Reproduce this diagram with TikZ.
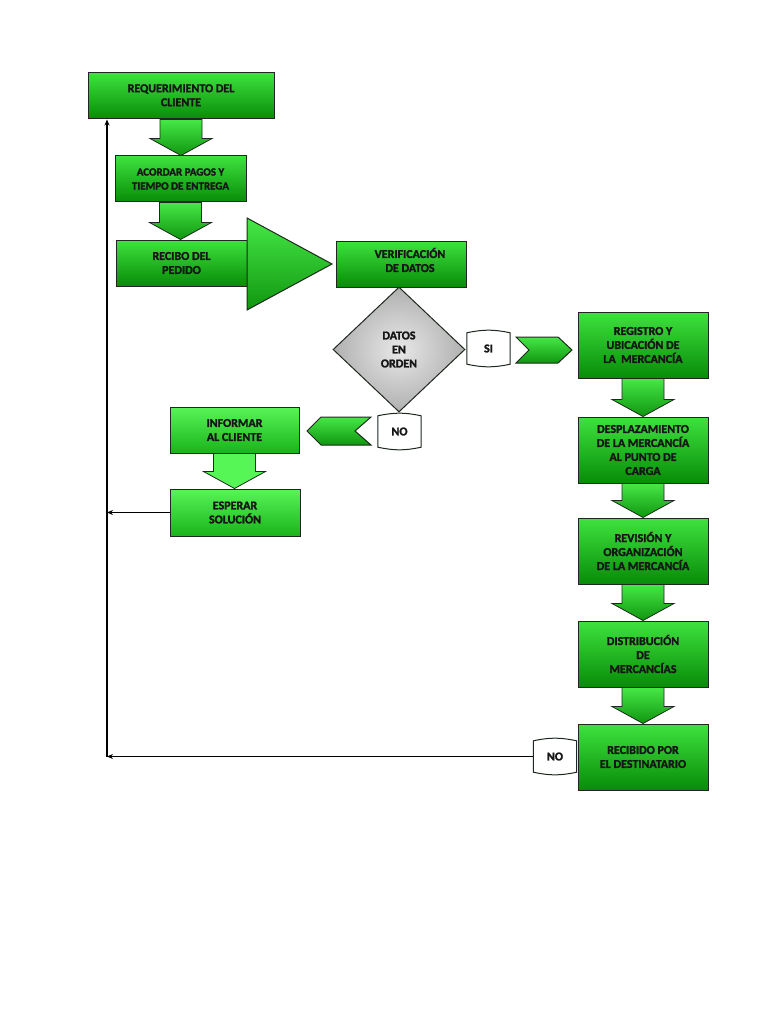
\documentclass[tikz,border=0pt]{standalone}
\usepackage{fontspec}
\setmainfont{Carlito}[BoldFeatures={FakeBold=1.8}]
\usetikzlibrary{arrows.meta,calc,backgrounds,shapes.geometric}
\definecolor{gtop}{RGB}{62,226,62}
\definecolor{gbot}{RGB}{8,140,8}
\definecolor{ltop}{RGB}{88,244,88}
\definecolor{lbot}{RGB}{26,180,26}
\definecolor{atop}{RGB}{70,232,70}
\definecolor{abot}{RGB}{16,150,16}
\definecolor{txtc}{RGB}{22,22,22}
\definecolor{edge}{RGB}{30,40,30}
\definecolor{bright}{RGB}{86,246,86}
\newcommand{\blockdown}[3][]{%
  \path[blockarrow,#1] let \p1=(#2.south), \p2=(#3.north) in
    (\x1-21pt,\y1) -- (\x1+21pt,\y1) -- (\x1+21pt,\y2+17pt) -- (\x1+31pt,\y2+17pt)
    -- (\x1,\y2) -- (\x1-31pt,\y2+17pt) -- (\x1-21pt,\y2+17pt) -- cycle;}
\begin{document}
\begin{tikzpicture}[x=1pt,y=-1pt,
  txt/.style={font=\bfseries\fontsize{12}{14}\selectfont, text=txtc, align=center},
  box/.style={txt, draw=edge, line width=1pt, top color=gtop, bottom color=gbot,
    rectangle, inner sep=0pt},
  lbox/.style={box, top color=ltop, bottom color=lbot},
  blockarrow/.style={draw=edge, line width=0.8pt, top color=atop, bottom color=abot},
  tagnode/.style={txt, rectangle, inner sep=0pt, minimum width=43, minimum height=31},
  tagline/.style={draw=edge, line width=1pt, fill=white},
  conn/.style={draw=black, line width=1.2pt, -{Stealth[length=6pt,width=5pt]}}
]
\useasboundingbox (0,0) rectangle (768,1024);

% left column
\node[box, minimum width=186, minimum height=46] (req) at (181,96) {REQUERIMIENTO DEL\\CLIENTE\vphantom{Q}};
\node[box, minimum width=131, minimum height=46, font=\bfseries\fontsize{11}{14}\selectfont] (acor) at (180.5,179) {ACORDAR PAGOS Y\\TIEMPO DE ENTREGA};
\node[box, minimum width=131, minimum height=46] (rec) at (181.5,263) {RECIBO DEL\\PEDIDO};
\blockdown{req}{acor}
\blockdown{acor}{rec}

% big triangle
\coordinate (t1) at (247,218);
\coordinate (t2) at (332,264);
\coordinate (t3) at (247,310);
\path[blockarrow, line width=1pt] (t1) -- (t2) -- (t3) -- cycle;

% verification
\node[box, minimum width=130, minimum height=46] (ver) at (401,264) {};
\node[txt] (vert) at (410,260) {VERIFICACIÓN\\DE DATOS};

% diamond
\node[txt, diamond, draw=edge, line width=1pt, inner color=gray!18, outer color=gray!62,
  minimum width=132, minimum height=125, inner sep=0pt] (dat) at (399,349.5) {DATOS\\EN\\ORDEN};

% tags
\node[tagnode] (si) at (488.5,348.5) {SI};
\node[tagnode] (no1) at (399.5,431.5) {NO};
\node[tagnode] (no2) at (555,756.5) {NO};
\begin{scope}[on background layer]
\foreach \t in {si,no1,no2}{
  \path[tagline] (\t.south west) -- (\t.north west) to[bend left=12] (\t.north east)
    -- (\t.south east) to[bend left=12] (\t.south west) -- cycle;
}
\end{scope}

% chevrons
\path[blockarrow, line width=1pt] (516,337) -- (558,337) -- (572,350) -- (558,363) -- (516,363) -- (529,350) -- cycle;
\path[blockarrow, line width=1pt] (307,431) -- (321,417) -- (371,417) -- (355,431) -- (371,445) -- (321,445) -- cycle;

% inform
\node[lbox, minimum width=129, minimum height=46] (inf) at (234.5,430) {INFORMAR\\AL CLIENTE};
\node[lbox, minimum width=130, minimum height=47] (esp) at (235,512.5) {ESPERAR\\SOLUCIÓN};
\blockdown[top color=bright, bottom color=bright]{inf}{esp}

% right column
\node[box, minimum width=130, minimum height=66] (reg) at (643,345) {REGISTRO Y\\UBICACIÓN DE\\LA\ \ MERCANCÍA};
\node[box, minimum width=130, minimum height=66] (des) at (643,450) {DESPLAZAMIENTO\\DE LA MERCANCÍA\\AL PUNTO DE\\CARGA};
\node[box, minimum width=130, minimum height=66] (revi) at (643,551) {REVISIÓN Y\\ORGANIZACIÓN\\DE LA MERCANCÍA};
\node[box, minimum width=130, minimum height=66] (dist) at (643,654) {DISTRIBUCIÓN\\DE\\MERCANCÍAS};
\node[box, minimum width=130, minimum height=66] (recib) at (643,757) {RECIBIDO POR\\EL DESTINATARIO};
\blockdown{reg}{des}
\blockdown{des}{revi}
\blockdown{revi}{dist}
\blockdown{dist}{recib}

% return lines
\coordinate (cl) at (107,757);
\draw[conn] (no2.west) -- (no2.west -| cl);
\draw[conn] (cl) -- (req.south -| cl);
\draw[conn] (esp.west) -- (esp.west -| cl);
\end{tikzpicture}
\end{document}
